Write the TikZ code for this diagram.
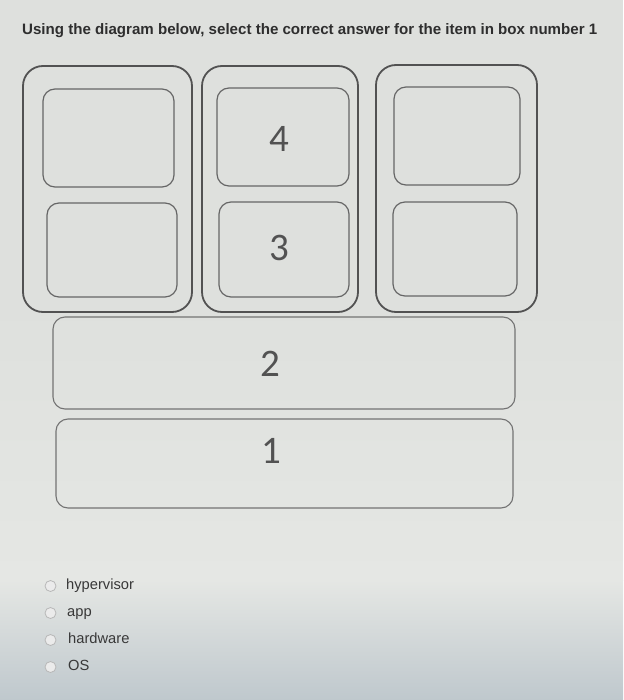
\documentclass[tikz,border=0pt]{standalone}
\usepackage{fontspec}
\setmainfont{Liberation Sans}
\newfontfamily\digitfont{Carlito}
\begin{document}
\begin{tikzpicture}[x=1pt,y=-1pt,
  outerbox/.style={draw=black!68,line width=1.8pt,rounded corners=20pt,inner sep=0pt},
  innerbox/.style={draw=black!60,line width=1.2pt,rounded corners=12pt,inner sep=0pt},
  layerbox/.style={draw=black!55,line width=1.1pt,rounded corners=12pt,inner sep=0pt},
  digit/.style={font=\digitfont\fontsize{39}{39}\selectfont,text=black!68,inner sep=0pt},
  radio/.style={circle,draw=black!28,fill=black!8,line width=0.8pt,minimum size=11pt,inner sep=0pt},
  optiontext/.style={anchor=mid west,font=\fontsize{14.7}{16}\selectfont,text=black!78,inner sep=0pt}]
\useasboundingbox (0,0) rectangle (623,700);
\fill[color={rgb,255:red,222;green,224;blue,221}] (0,0) rectangle (623,300);
\shade[top color={rgb,255:red,222;green,224;blue,221},bottom color={rgb,255:red,229;green,231;blue,228}] (0,300) rectangle (623,580);
\shade[top color={rgb,255:red,229;green,231;blue,228},bottom color={rgb,255:red,191;green,200;blue,205}] (0,580) rectangle (623,700);
% title
\node[anchor=base west,inner sep=0pt,text=black!82,font=\bfseries\fontsize{15.1}{16}\selectfont] (title) at (22,35)
  {Using the diagram below, select the correct answer for the item in box number 1};
% outer boxes
\node[outerbox,minimum width=169pt,minimum height=246pt] (outL) at (107.5,189) {};
\node[outerbox,minimum width=156pt,minimum height=246pt] (outM) at (280,189) {};
\node[outerbox,minimum width=161pt,minimum height=247pt] (outR) at (456.5,188.5) {};
% inner boxes
\node[innerbox,minimum width=131pt,minimum height=98pt] (inLt) at (108.5,138) {};
\node[innerbox,minimum width=130pt,minimum height=94pt] (inLb) at (112,250) {};
\node[innerbox,minimum width=132pt,minimum height=98pt] (inMt) at (283,137) {};
\node[innerbox,minimum width=130pt,minimum height=95pt] (inMb) at (284,249.5) {};
\node[innerbox,minimum width=126pt,minimum height=98pt] (inRt) at (457,136) {};
\node[innerbox,minimum width=124pt,minimum height=94pt] (inRb) at (455,249) {};
% layer boxes
\node[layerbox,minimum width=462pt,minimum height=92pt] (box2) at (284,363) {};
\node[layerbox,minimum width=457pt,minimum height=89pt] (box1) at (284.5,463.5) {};
% digits
\node[digit] (d4) at (279,139) {4};
\node[digit] (d3) at (279,248) {3};
\node[digit] (d2) at (270,364) {2};
\node[digit] (d1) at (271,451) {1};
% options
\node[radio] (r1) at (50.5,586) {};
\node[radio] (r2) at (50.5,613) {};
\node[radio] (r3) at (50.5,640) {};
\node[radio] (r4) at (50.5,667) {};
\node[optiontext] (o1) at (66,587) {hypervisor};
\node[optiontext] (o2) at (67,614) {app};
\node[optiontext] (o3) at (68,641) {hardware};
\node[optiontext] (o4) at (68,668) {OS};
\end{tikzpicture}
\end{document}
